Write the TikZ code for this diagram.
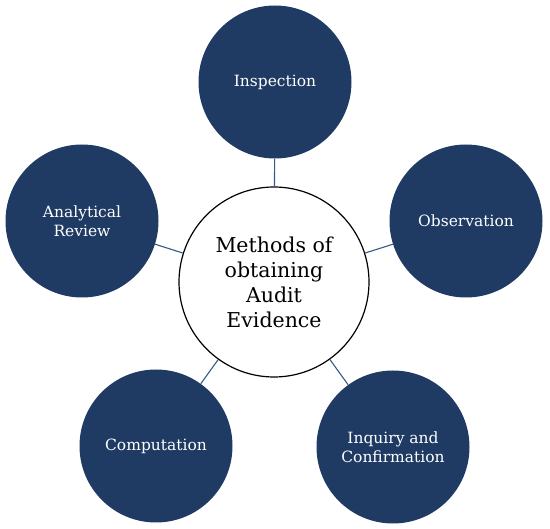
\documentclass[tikz,border=0pt]{standalone}
\usepackage{fontspec}
\setmainfont{DejaVu Serif}
\definecolor{navy}{RGB}{31,59,99}
\definecolor{linkblue}{RGB}{52,90,135}
\begin{document}
\begin{tikzpicture}[x=1pt,y=-1pt,
  outer/.style={circle,fill=navy,minimum size=153pt,inner sep=0pt,text=white,
    font=\fontsize{15.5}{18.5}\selectfont,align=center},
  hub/.style={circle,draw=black,line width=1.2pt,fill=white,minimum size=190pt,inner sep=0pt,
    font=\fontsize{20.5}{25}\selectfont,align=center},
  link/.style={draw=linkblue,line width=1.1pt}]
\useasboundingbox (0,0) rectangle (550,529);
\node[hub] (c) at (274,282) {Methods of\\obtaining\\Audit\\Evidence};
\node[outer] (ins) at (275,82) {Inspection};
\node[outer] (obs) at (466,221) {Observation};
\node[outer] (inq) at (393,447) {Inquiry and\\Confirmation};
\node[outer] (com) at (156,446) {Computation};
\node[outer] (ana) at (82,221) {Analytical\\Review};
\draw[link] (c) -- (ins);
\draw[link] (c) -- (obs);
\draw[link] (c) -- (inq);
\draw[link] (c) -- (com);
\draw[link] (c) -- (ana);
\end{tikzpicture}
\end{document}
